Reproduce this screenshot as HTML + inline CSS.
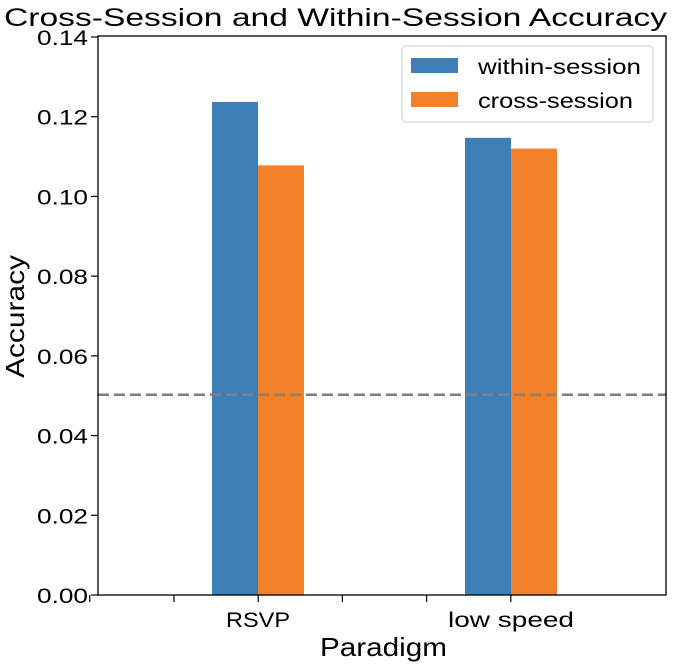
<!DOCTYPE html>
<html><head><meta charset="utf-8"><style>
body{margin:0;background:#fff}
svg{display:block;font-family:"Liberation Sans","DejaVu Sans",sans-serif}
</style></head><body>
<svg id="c" width="685" height="667" viewBox="0 0 685 667">
<text x="4" y="26" font-size="25" textLength="663" lengthAdjust="spacingAndGlyphs" fill="#000">Cross-Session and Within-Session Accuracy</text>
<g id="bars"></g>
<g id="yaxis"></g>
<g id="xaxis"></g>
<line id="baseline" stroke="#808080" stroke-width="2.5" stroke-dasharray="11,5"></line>
<rect x="98" y="36" width="568" height="559" fill="none" stroke="#000" stroke-width="1.3"/>
<g>
<rect x="402" y="46" width="251" height="76" rx="4" fill="#fff" fill-opacity="0.8" stroke="#ccc"/>
<rect x="411" y="58" width="47" height="15" fill="#3f7fb8"/>
<text x="478" y="74" font-size="21" textLength="163" lengthAdjust="spacingAndGlyphs">within-session</text>
<rect x="411" y="92" width="47" height="15" fill="#f2812a"/>
<text x="478" y="108" font-size="21" textLength="155" lengthAdjust="spacingAndGlyphs">cross-session</text>
</g>
<text x="320" y="656" font-size="26" textLength="127" lengthAdjust="spacingAndGlyphs">Paradigm</text>
<text transform="translate(24,378) rotate(-90)" font-size="26" textLength="123" lengthAdjust="spacingAndGlyphs">Accuracy</text>
</svg>
<script>
const categories=["RSVP","low speed"];
const withinValues=[0.1237,0.1147];
const crossValues=[0.1078,0.1120];
const yTicks=[0,0.02,0.04,0.06,0.08,0.10,0.12,0.14];
const chanceLevel=0.05;
const NS="http://www.w3.org/2000/svg";
const y0=595,yTop=37,yMax=0.14;
const y=v=>y0-(v/yMax)*(y0-yTop);
const xCenter=i=>258+i*253;
const bw=46;
function mk(tag,attrs,parent){const e=document.createElementNS(NS,tag);for(const k in attrs)e.setAttribute(k,attrs[k]);parent.appendChild(e);return e;}
const bars=document.getElementById('bars');
categories.forEach((c,i)=>{
 const r1=mk('rect',{x:xCenter(i)-bw,y:y(withinValues[i]),width:bw,height:y0-y(withinValues[i]),fill:'#3f7fb8'},bars);
 
 
 const r2=mk('rect',{x:xCenter(i),y:y(crossValues[i]),width:bw,height:y0-y(crossValues[i]),fill:'#f2812a'},bars);
 
 
});
const ya=document.getElementById('yaxis');
yTicks.forEach(t=>{
 mk('line',{x1:91,x2:98,y1:y(t),y2:y(t),stroke:'#000','stroke-width':1.2},ya);
 const tx=mk('text',{x:37,y:y(t)+8,'font-size':21,textLength:51,lengthAdjust:'spacingAndGlyphs'},ya);
 tx.textContent=t.toFixed(2);
 
 
});
const xa=document.getElementById('xaxis');
[-1,0,1,2,3,4].forEach(k=>{const xx=174+k*84.2;mk('line',{x1:xx,x2:xx,y1:595,y2:602,stroke:'#000','stroke-width':1.2},xa);});
const labW=[64,126];
categories.forEach((c,i)=>{
 const tx=mk('text',{x:xCenter(i)-labW[i]/2,y:627,'font-size':21,textLength:labW[i],lengthAdjust:'spacingAndGlyphs'},xa);
 tx.textContent=c;
 
 
});
const bl=document.getElementById('baseline');
bl.setAttribute('x1',98);bl.setAttribute('x2',666);bl.setAttribute('y1',y(chanceLevel)-1);bl.setAttribute('y2',y(chanceLevel)-1);
</script>
</body></html>
